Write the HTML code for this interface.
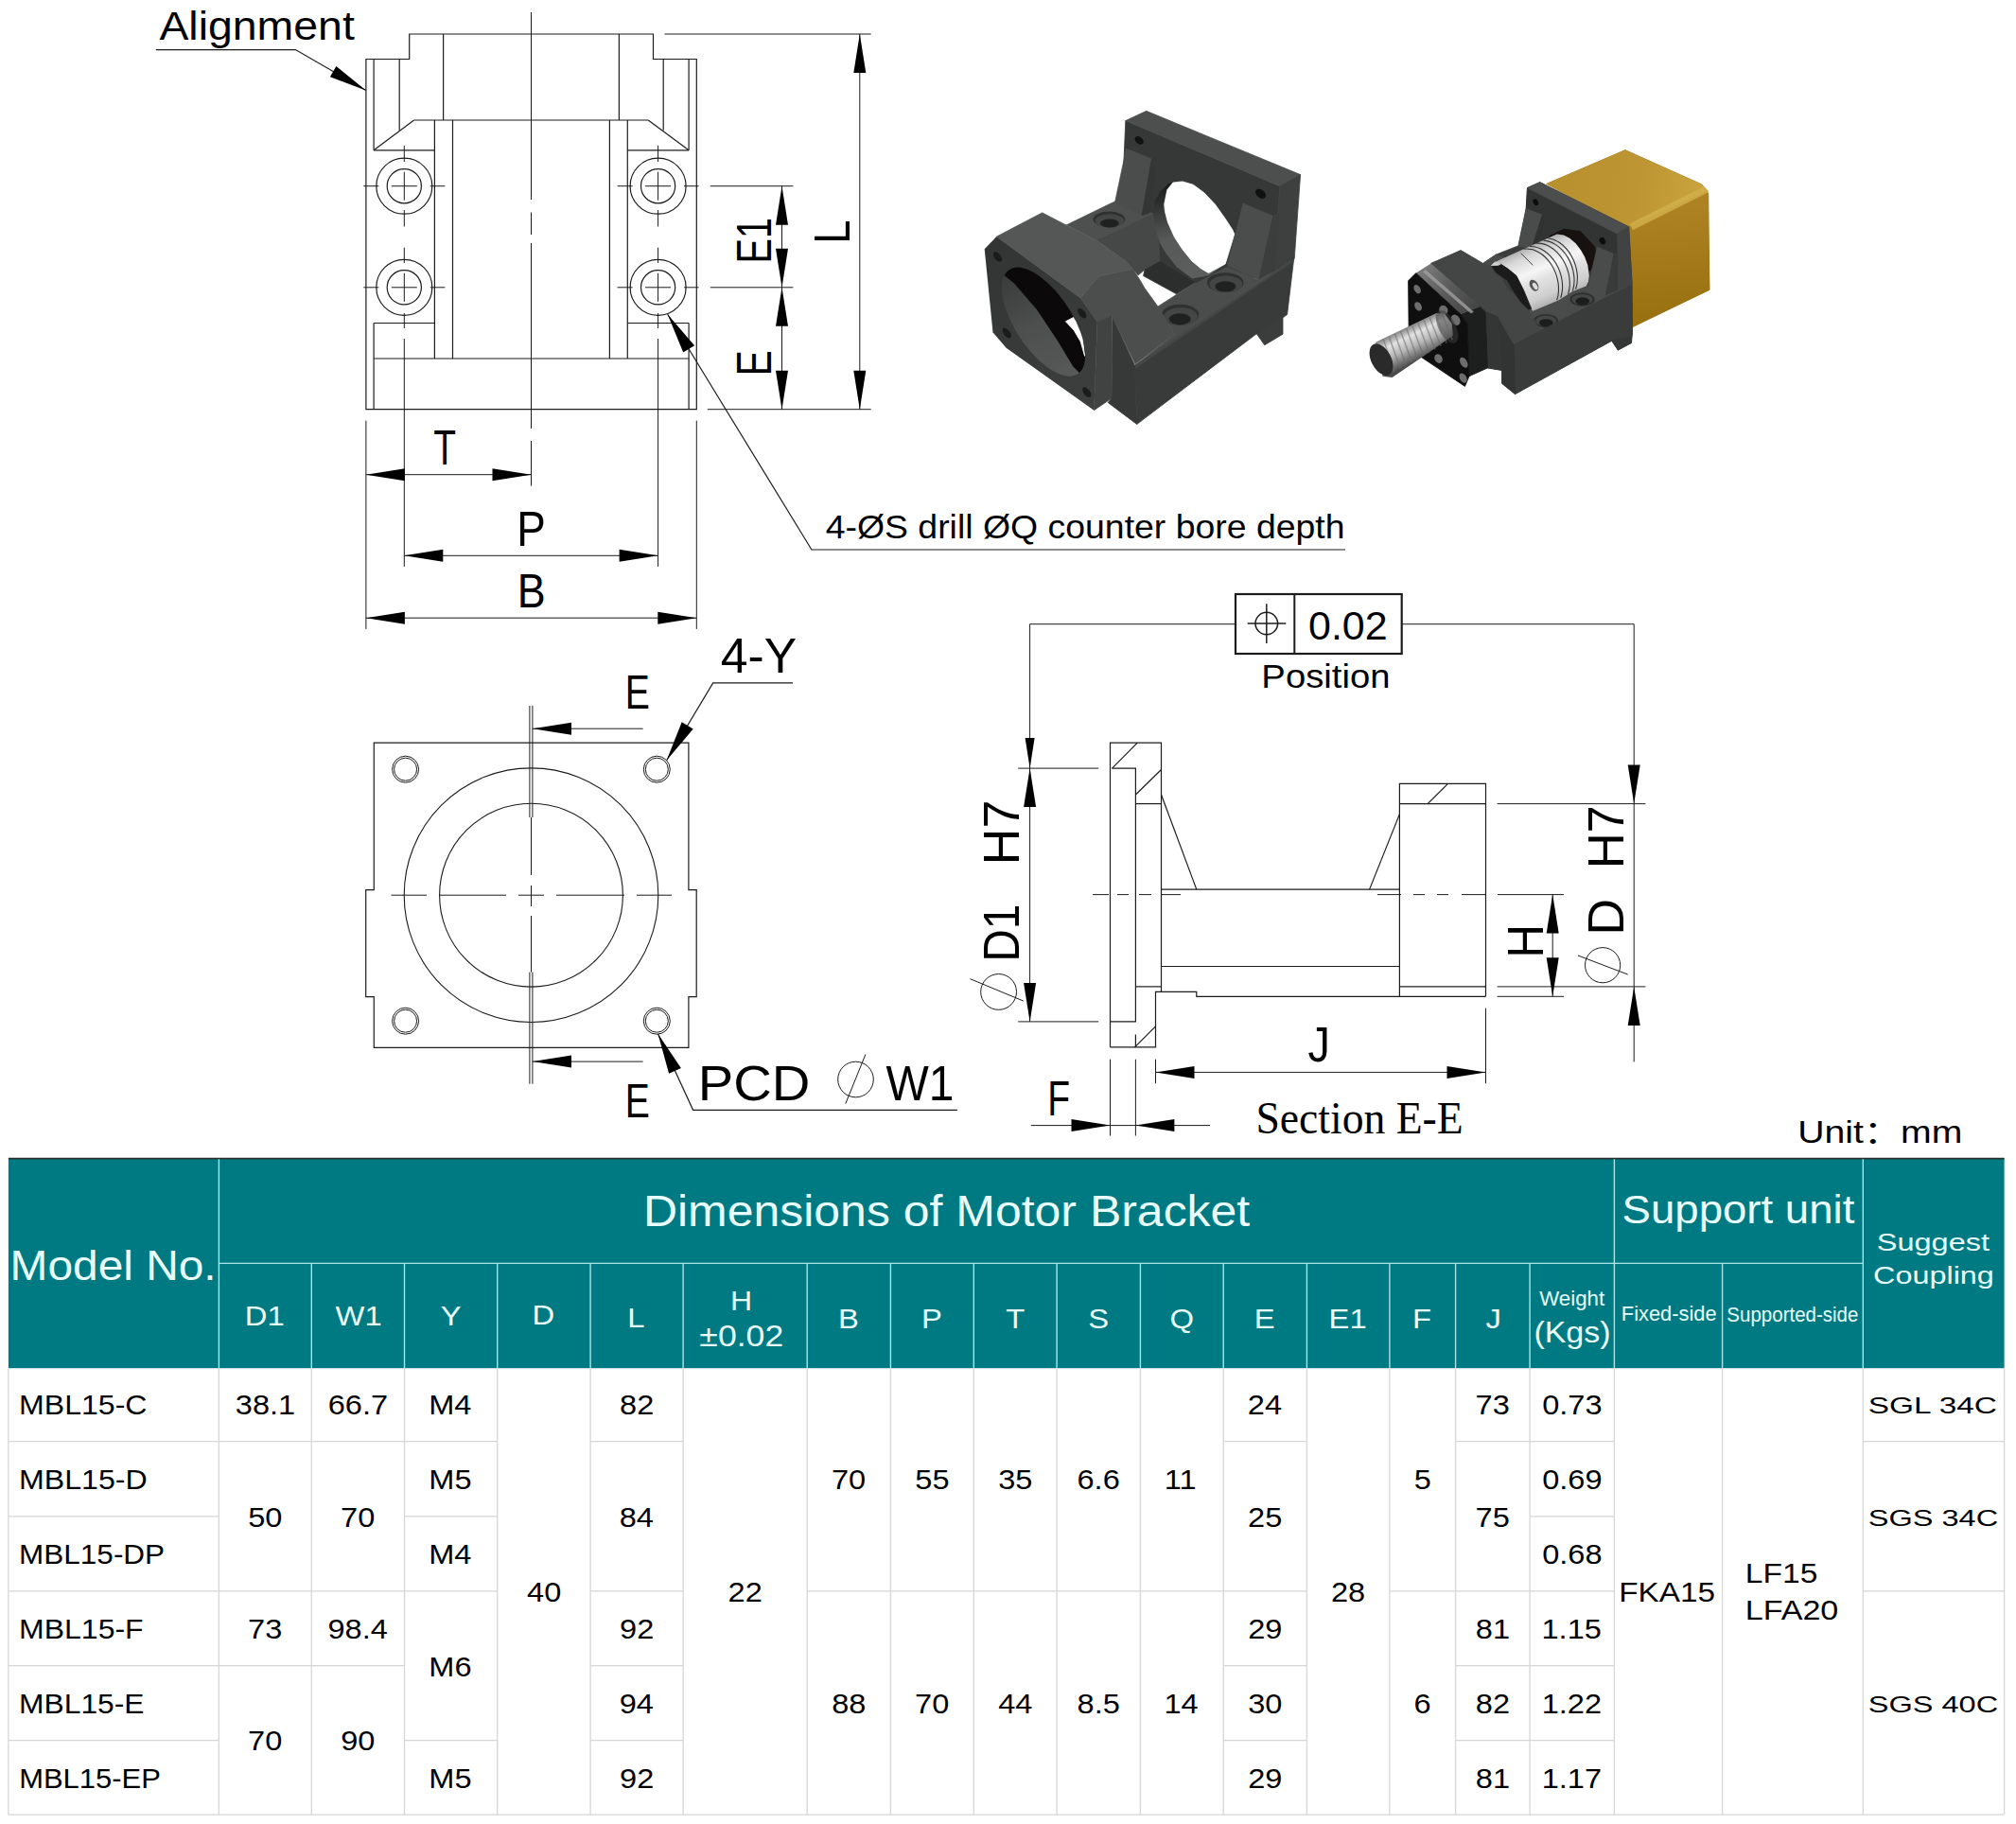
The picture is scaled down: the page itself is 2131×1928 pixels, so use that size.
<!DOCTYPE html>
<html><head><meta charset="utf-8"><title>Motor Bracket MBL15</title>
<style>html,body{margin:0;padding:0;background:#fff}svg{display:block}</style></head>
<body><svg width="2131" height="1928" viewBox="0 0 2131 1928" font-family='"Liberation Sans", sans-serif'>
<rect width="2131" height="1928" fill="#fff"/>
<path d="M386.9,432.7 V62.5 H432.7 V36 H690.5 V62.5 H736.3 V432.7 Z" stroke="#1c1c1c" stroke-width="1.2" fill="none" />
<line x1="395.1" y1="62.5" x2="395.1" y2="158.8" stroke="#1c1c1c" stroke-width="1.2" />
<line x1="422.2" y1="62.5" x2="422.2" y2="137.8" stroke="#1c1c1c" stroke-width="1.2" />
<line x1="468.6" y1="36.0" x2="468.6" y2="127.0" stroke="#1c1c1c" stroke-width="1.2" />
<line x1="437.6" y1="127.0" x2="395.1" y2="158.8" stroke="#1c1c1c" stroke-width="1.2" />
<line x1="395.1" y1="158.8" x2="459.4" y2="158.8" stroke="#1c1c1c" stroke-width="1.2" />
<line x1="459.4" y1="127.0" x2="459.4" y2="379.0" stroke="#1c1c1c" stroke-width="1.2" />
<line x1="478.5" y1="127.0" x2="478.5" y2="379.0" stroke="#1c1c1c" stroke-width="1.2" />
<line x1="395.1" y1="341.5" x2="459.4" y2="341.5" stroke="#1c1c1c" stroke-width="1.2" />
<line x1="395.1" y1="341.5" x2="395.1" y2="432.7" stroke="#1c1c1c" stroke-width="1.2" />
<line x1="728.1" y1="62.5" x2="728.1" y2="158.8" stroke="#1c1c1c" stroke-width="1.2" />
<line x1="701.2" y1="62.5" x2="701.2" y2="137.8" stroke="#1c1c1c" stroke-width="1.2" />
<line x1="654.4" y1="36.0" x2="654.4" y2="127.0" stroke="#1c1c1c" stroke-width="1.2" />
<line x1="685.2" y1="127.0" x2="728.1" y2="158.8" stroke="#1c1c1c" stroke-width="1.2" />
<line x1="728.1" y1="158.8" x2="663.3" y2="158.8" stroke="#1c1c1c" stroke-width="1.2" />
<line x1="663.3" y1="127.0" x2="663.3" y2="379.0" stroke="#1c1c1c" stroke-width="1.2" />
<line x1="644.4" y1="127.0" x2="644.4" y2="379.0" stroke="#1c1c1c" stroke-width="1.2" />
<line x1="728.1" y1="341.5" x2="663.3" y2="341.5" stroke="#1c1c1c" stroke-width="1.2" />
<line x1="728.1" y1="341.5" x2="728.1" y2="432.7" stroke="#1c1c1c" stroke-width="1.2" />
<line x1="437.6" y1="127.0" x2="685.2" y2="127.0" stroke="#1c1c1c" stroke-width="1.2" />
<line x1="395.1" y1="379.0" x2="728.1" y2="379.0" stroke="#1c1c1c" stroke-width="1.2" />
<circle cx="427.3" cy="196.7" r="29.5" stroke="#1c1c1c" stroke-width="1.2" fill="none"/>
<circle cx="427.3" cy="196.7" r="18.1" stroke="#1c1c1c" stroke-width="1.2" fill="none"/>
<line x1="384.3" y1="196.7" x2="400.3" y2="196.7" stroke="#1c1c1c" stroke-width="1" />
<line x1="413.8" y1="196.7" x2="440.8" y2="196.7" stroke="#1c1c1c" stroke-width="1" />
<line x1="454.8" y1="196.7" x2="470.3" y2="196.7" stroke="#1c1c1c" stroke-width="1" />
<line x1="427.3" y1="181.7" x2="427.3" y2="211.7" stroke="#1c1c1c" stroke-width="1" />
<circle cx="427.3" cy="303.8" r="29.5" stroke="#1c1c1c" stroke-width="1.2" fill="none"/>
<circle cx="427.3" cy="303.8" r="18.1" stroke="#1c1c1c" stroke-width="1.2" fill="none"/>
<line x1="384.3" y1="303.8" x2="400.3" y2="303.8" stroke="#1c1c1c" stroke-width="1" />
<line x1="413.8" y1="303.8" x2="440.8" y2="303.8" stroke="#1c1c1c" stroke-width="1" />
<line x1="454.8" y1="303.8" x2="470.3" y2="303.8" stroke="#1c1c1c" stroke-width="1" />
<line x1="427.3" y1="288.8" x2="427.3" y2="318.8" stroke="#1c1c1c" stroke-width="1" />
<line x1="427.3" y1="153.8" x2="427.3" y2="171.0" stroke="#1c1c1c" stroke-width="1" />
<line x1="427.3" y1="222.0" x2="427.3" y2="239.5" stroke="#1c1c1c" stroke-width="1" />
<line x1="427.3" y1="261.7" x2="427.3" y2="278.0" stroke="#1c1c1c" stroke-width="1" />
<line x1="427.3" y1="331.0" x2="427.3" y2="347.0" stroke="#1c1c1c" stroke-width="1" />
<line x1="427.3" y1="358.0" x2="427.3" y2="598.9" stroke="#1c1c1c" stroke-width="1" />
<circle cx="695.6" cy="196.7" r="29.5" stroke="#1c1c1c" stroke-width="1.2" fill="none"/>
<circle cx="695.6" cy="196.7" r="18.1" stroke="#1c1c1c" stroke-width="1.2" fill="none"/>
<line x1="652.6" y1="196.7" x2="668.6" y2="196.7" stroke="#1c1c1c" stroke-width="1" />
<line x1="682.1" y1="196.7" x2="709.1" y2="196.7" stroke="#1c1c1c" stroke-width="1" />
<line x1="723.1" y1="196.7" x2="738.6" y2="196.7" stroke="#1c1c1c" stroke-width="1" />
<line x1="695.6" y1="181.7" x2="695.6" y2="211.7" stroke="#1c1c1c" stroke-width="1" />
<circle cx="695.6" cy="303.8" r="29.5" stroke="#1c1c1c" stroke-width="1.2" fill="none"/>
<circle cx="695.6" cy="303.8" r="18.1" stroke="#1c1c1c" stroke-width="1.2" fill="none"/>
<line x1="652.6" y1="303.8" x2="668.6" y2="303.8" stroke="#1c1c1c" stroke-width="1" />
<line x1="682.1" y1="303.8" x2="709.1" y2="303.8" stroke="#1c1c1c" stroke-width="1" />
<line x1="723.1" y1="303.8" x2="738.6" y2="303.8" stroke="#1c1c1c" stroke-width="1" />
<line x1="695.6" y1="288.8" x2="695.6" y2="318.8" stroke="#1c1c1c" stroke-width="1" />
<line x1="695.6" y1="153.8" x2="695.6" y2="171.0" stroke="#1c1c1c" stroke-width="1" />
<line x1="695.6" y1="222.0" x2="695.6" y2="239.5" stroke="#1c1c1c" stroke-width="1" />
<line x1="695.6" y1="261.7" x2="695.6" y2="278.0" stroke="#1c1c1c" stroke-width="1" />
<line x1="695.6" y1="331.0" x2="695.6" y2="347.0" stroke="#1c1c1c" stroke-width="1" />
<line x1="695.6" y1="358.0" x2="695.6" y2="598.9" stroke="#1c1c1c" stroke-width="1" />
<line x1="561.5" y1="13.0" x2="561.5" y2="211.0" stroke="#1c1c1c" stroke-width="1" />
<line x1="561.5" y1="224.5" x2="561.5" y2="248.0" stroke="#1c1c1c" stroke-width="1" />
<line x1="561.5" y1="257.0" x2="561.5" y2="453.0" stroke="#1c1c1c" stroke-width="1" />
<line x1="561.5" y1="466.0" x2="561.5" y2="513.6" stroke="#1c1c1c" stroke-width="1" />
<text transform="translate(168.41,42.00) scale(1.1013,1)" font-family='"Liberation Sans", "Noto Sans CJK SC", sans-serif' font-size="42.15" fill="#000">Alignment</text>
<path d="M164.8,52.6 H312.4 L386.8,95.5" stroke="#1c1c1c" stroke-width="1.2" fill="none" />
<polygon points="386.8,95.5 348.9,81.2 355.4,69.9" fill="#000" />
<line x1="702.5" y1="36.0" x2="920.7" y2="36.0" stroke="#1c1c1c" stroke-width="1" />
<line x1="747.8" y1="432.7" x2="920.7" y2="432.7" stroke="#1c1c1c" stroke-width="1" />
<line x1="908.8" y1="36.0" x2="908.8" y2="432.7" stroke="#1c1c1c" stroke-width="1" />
<polygon points="908.8,36.0 915.3,77.0 902.3,77.0" fill="#000" />
<polygon points="908.8,432.7 902.3,391.7 915.3,391.7" fill="#000" />
<text transform="translate(898.40,257.72) rotate(-90) scale(0.8434,1)" font-family='"Liberation Sans", "Noto Sans CJK SC", sans-serif' font-size="53.78" fill="#000">L</text>
<line x1="750.8" y1="196.7" x2="838.4" y2="196.7" stroke="#1c1c1c" stroke-width="1" />
<line x1="750.8" y1="303.8" x2="838.4" y2="303.8" stroke="#1c1c1c" stroke-width="1" />
<line x1="826.5" y1="196.7" x2="826.5" y2="432.7" stroke="#1c1c1c" stroke-width="1" />
<polygon points="826.5,196.7 833.0,237.7 820.0,237.7" fill="#000" />
<polygon points="826.5,303.8 820.0,262.8 833.0,262.8" fill="#000" />
<polygon points="826.5,303.8 833.0,344.8 820.0,344.8" fill="#000" />
<polygon points="826.5,432.7 820.0,391.7 833.0,391.7" fill="#000" />
<text transform="translate(815.30,278.55) rotate(-90) scale(0.7576,1)" font-family='"Liberation Sans", "Noto Sans CJK SC", sans-serif' font-size="52.33" fill="#000">E1</text>
<text transform="translate(815.30,397.33) rotate(-90) scale(0.7757,1)" font-family='"Liberation Sans", "Noto Sans CJK SC", sans-serif' font-size="52.33" fill="#000">E</text>
<line x1="386.9" y1="444.6" x2="386.9" y2="664.9" stroke="#1c1c1c" stroke-width="1" />
<line x1="736.3" y1="444.6" x2="736.3" y2="664.9" stroke="#1c1c1c" stroke-width="1" />
<line x1="386.9" y1="501.7" x2="561.5" y2="501.7" stroke="#1c1c1c" stroke-width="1" />
<polygon points="386.9,501.7 427.9,495.2 427.9,508.2" fill="#000" />
<polygon points="561.5,501.7 520.5,508.2 520.5,495.2" fill="#000" />
<text transform="translate(458.13,491.30) scale(0.7436,1)" font-family='"Liberation Sans", "Noto Sans CJK SC", sans-serif' font-size="52.33" fill="#000">T</text>
<line x1="427.3" y1="587.3" x2="695.6" y2="587.3" stroke="#1c1c1c" stroke-width="1" />
<polygon points="427.3,587.3 468.3,580.8 468.3,593.8" fill="#000" />
<polygon points="695.6,587.3 654.6,593.8 654.6,580.8" fill="#000" />
<text transform="translate(546.24,576.60) scale(0.8761,1)" font-family='"Liberation Sans", "Noto Sans CJK SC", sans-serif' font-size="52.33" fill="#000">P</text>
<line x1="386.9" y1="653.2" x2="736.3" y2="653.2" stroke="#1c1c1c" stroke-width="1" />
<polygon points="386.9,653.2 427.9,646.7 427.9,659.7" fill="#000" />
<polygon points="736.3,653.2 695.3,659.7 695.3,646.7" fill="#000" />
<text transform="translate(546.82,641.80) scale(0.8955,1)" font-family='"Liberation Sans", "Noto Sans CJK SC", sans-serif' font-size="50.15" fill="#000">B</text>
<path d="M705.7,332.3 L857.9,581 H1422" stroke="#1c1c1c" stroke-width="1.2" fill="none" />
<polygon points="705.7,332.3 734.1,365.3 722.2,372.6" fill="#000" />
<text transform="translate(872.64,568.60) scale(1.0508,1)" font-family='"Liberation Sans", "Noto Sans CJK SC", sans-serif' font-size="35.61" fill="#000">4-ØS drill ØQ counter bore depth</text>
<path d="M395.3,785.2 H727.9 V940.7 H736.2 V1053.6 H727.9 V1107.3 H395.3 V1053.6 H386.7 V940.7 H395.3 Z" stroke="#1c1c1c" stroke-width="1.2" fill="none" />
<circle cx="561.5" cy="946.2" r="134.3" stroke="#1c1c1c" stroke-width="1.1" fill="none"/>
<circle cx="561.5" cy="946.2" r="96.9" stroke="#1c1c1c" stroke-width="1.1" fill="none"/>
<circle cx="428.6" cy="813.2" r="14.0" stroke="#1c1c1c" stroke-width="1" fill="none"/>
<circle cx="428.6" cy="813.2" r="12.0" stroke="#1c1c1c" stroke-width="1" fill="none"/>
<circle cx="428.6" cy="1079.2" r="14.0" stroke="#1c1c1c" stroke-width="1" fill="none"/>
<circle cx="428.6" cy="1079.2" r="12.0" stroke="#1c1c1c" stroke-width="1" fill="none"/>
<circle cx="694.3" cy="813.2" r="14.0" stroke="#1c1c1c" stroke-width="1" fill="none"/>
<circle cx="694.3" cy="813.2" r="12.0" stroke="#1c1c1c" stroke-width="1" fill="none"/>
<circle cx="694.3" cy="1079.2" r="14.0" stroke="#1c1c1c" stroke-width="1" fill="none"/>
<circle cx="694.3" cy="1079.2" r="12.0" stroke="#1c1c1c" stroke-width="1" fill="none"/>
<line x1="413.5" y1="946.2" x2="451.0" y2="946.2" stroke="#1c1c1c" stroke-width="1" />
<line x1="464.0" y1="946.2" x2="535.0" y2="946.2" stroke="#1c1c1c" stroke-width="1" />
<line x1="548.0" y1="946.2" x2="575.0" y2="946.2" stroke="#1c1c1c" stroke-width="1" />
<line x1="588.0" y1="946.2" x2="660.0" y2="946.2" stroke="#1c1c1c" stroke-width="1" />
<line x1="673.0" y1="946.2" x2="710.0" y2="946.2" stroke="#1c1c1c" stroke-width="1" />
<line x1="561.5" y1="864.0" x2="561.5" y2="925.0" stroke="#1c1c1c" stroke-width="1" />
<line x1="561.5" y1="936.0" x2="561.5" y2="958.0" stroke="#1c1c1c" stroke-width="1" />
<line x1="561.5" y1="968.0" x2="561.5" y2="1027.6" stroke="#1c1c1c" stroke-width="1" />
<line x1="559.9" y1="746.0" x2="559.9" y2="864.0" stroke="#1c1c1c" stroke-width="1" />
<line x1="559.9" y1="1027.6" x2="559.9" y2="1145.7" stroke="#1c1c1c" stroke-width="1" />
<line x1="562.9" y1="746.0" x2="562.9" y2="864.0" stroke="#1c1c1c" stroke-width="1" />
<line x1="562.9" y1="1027.6" x2="562.9" y2="1145.7" stroke="#1c1c1c" stroke-width="1" />
<line x1="563.0" y1="770.2" x2="679.6" y2="770.2" stroke="#1c1c1c" stroke-width="1" />
<polygon points="563.0,770.2 604.0,763.7 604.0,776.7" fill="#000" />
<line x1="563.0" y1="1122.1" x2="679.6" y2="1122.1" stroke="#1c1c1c" stroke-width="1" />
<polygon points="563.0,1122.1 604.0,1115.6 604.0,1128.6" fill="#000" />
<text transform="translate(660.79,748.50) scale(0.7689,1)" font-family='"Liberation Sans", "Noto Sans CJK SC", sans-serif' font-size="50.87" fill="#000">E</text>
<text transform="translate(660.79,1181.30) scale(0.7689,1)" font-family='"Liberation Sans", "Noto Sans CJK SC", sans-serif' font-size="50.87" fill="#000">E</text>
<path d="M704.6,803.8 L753.7,721.9 H838" stroke="#1c1c1c" stroke-width="1.2" fill="none" />
<polygon points="704.6,803.8 720.7,763.3 732.7,770.5" fill="#000" />
<text transform="translate(761.82,711.30) scale(0.9864,1)" font-family='"Liberation Sans", "Noto Sans CJK SC", sans-serif' font-size="52.33" fill="#000">4-Y</text>
<path d="M695.5,1092.8 L732.6,1173.3 H1011.8" stroke="#1c1c1c" stroke-width="1.2" fill="none" />
<polygon points="695.5,1092.8 719.9,1128.9 707.1,1134.8" fill="#000" />
<text transform="translate(737.69,1162.80) scale(1.0735,1)" font-family='"Liberation Sans", "Noto Sans CJK SC", sans-serif' font-size="52.33" fill="#000">PCD</text>
<circle cx="904.5" cy="1141.0" r="18.8" stroke="#1c1c1c" stroke-width="1" fill="none"/>
<line x1="893.8" y1="1166.6" x2="914.9" y2="1114.5" stroke="#1c1c1c" stroke-width="1" />
<text transform="translate(936.49,1162.80) scale(0.9167,1)" font-family='"Liberation Sans", "Noto Sans CJK SC", sans-serif' font-size="52.33" fill="#000">W1</text>
<path d="M1173.5,1106.8 V785.2 H1227.5 V1048.4" stroke="#1c1c1c" stroke-width="1.2" fill="none" />
<path d="M1175.5,812.1 H1200.4 V1079.9 H1173.5" stroke="#1c1c1c" stroke-width="1.2" fill="none" />
<line x1="1175.5" y1="812.1" x2="1202.3" y2="785.2" stroke="#1c1c1c" stroke-width="1.2" />
<line x1="1200.4" y1="840.0" x2="1227.5" y2="813.5" stroke="#1c1c1c" stroke-width="1.2" />
<line x1="1200.4" y1="849.6" x2="1227.5" y2="849.6" stroke="#1c1c1c" stroke-width="1.2" />
<line x1="1200.4" y1="1042.9" x2="1227.5" y2="1042.9" stroke="#1c1c1c" stroke-width="1.2" />
<path d="M1173.5,1106.8 H1221.5 V1048.4 H1264.8 V1053.3 H1570.5" stroke="#1c1c1c" stroke-width="1.2" fill="none" />
<line x1="1199.5" y1="1106.8" x2="1221.5" y2="1084.8" stroke="#1c1c1c" stroke-width="1.2" />
<line x1="1200.4" y1="1093.6" x2="1200.4" y2="1106.8" stroke="#1c1c1c" stroke-width="1.2" />
<line x1="1227.5" y1="840.0" x2="1264.8" y2="940.1" stroke="#1c1c1c" stroke-width="1.2" />
<line x1="1479.4" y1="860.6" x2="1447.6" y2="940.1" stroke="#1c1c1c" stroke-width="1.2" />
<line x1="1227.5" y1="940.1" x2="1479.4" y2="940.1" stroke="#1c1c1c" stroke-width="1.2" />
<line x1="1227.5" y1="1021.5" x2="1479.4" y2="1021.5" stroke="#1c1c1c" stroke-width="1.2" />
<path d="M1479.4,1053.3 V828.4 H1570.5 V1053.3" stroke="#1c1c1c" stroke-width="1.2" fill="none" />
<line x1="1479.4" y1="849.6" x2="1570.5" y2="849.6" stroke="#1c1c1c" stroke-width="1.2" />
<line x1="1479.4" y1="1042.9" x2="1570.5" y2="1042.9" stroke="#1c1c1c" stroke-width="1.2" />
<line x1="1509.1" y1="849.6" x2="1530.5" y2="828.4" stroke="#1c1c1c" stroke-width="1.2" />
<line x1="1155.0" y1="945.6" x2="1172.0" y2="945.6" stroke="#1c1c1c" stroke-width="1" />
<line x1="1181.0" y1="945.6" x2="1193.0" y2="945.6" stroke="#1c1c1c" stroke-width="1" />
<line x1="1204.0" y1="945.6" x2="1217.0" y2="945.6" stroke="#1c1c1c" stroke-width="1" />
<line x1="1227.0" y1="945.6" x2="1248.0" y2="945.6" stroke="#1c1c1c" stroke-width="1" />
<line x1="1456.0" y1="945.6" x2="1481.0" y2="945.6" stroke="#1c1c1c" stroke-width="1" />
<line x1="1494.0" y1="945.6" x2="1506.0" y2="945.6" stroke="#1c1c1c" stroke-width="1" />
<line x1="1519.0" y1="945.6" x2="1531.0" y2="945.6" stroke="#1c1c1c" stroke-width="1" />
<line x1="1545.0" y1="945.6" x2="1571.0" y2="945.6" stroke="#1c1c1c" stroke-width="1" />
<line x1="1583.0" y1="945.6" x2="1653.0" y2="945.6" stroke="#1c1c1c" stroke-width="1" />
<line x1="1076.2" y1="812.1" x2="1161.2" y2="812.1" stroke="#1c1c1c" stroke-width="1" />
<line x1="1076.2" y1="1079.9" x2="1161.2" y2="1079.9" stroke="#1c1c1c" stroke-width="1" />
<line x1="1088.6" y1="659.7" x2="1088.6" y2="1079.9" stroke="#1c1c1c" stroke-width="1" />
<polygon points="1088.6,812.1 1083.6,780.1 1093.6,780.1" fill="#000" />
<polygon points="1088.6,812.1 1095.1,853.1 1082.1,853.1" fill="#000" />
<polygon points="1088.6,1079.9 1082.1,1038.9 1095.1,1038.9" fill="#000" />
<text transform="translate(1077.00,914.42) rotate(-90) scale(1.0148,1)" font-family='"Liberation Sans", "Noto Sans CJK SC", sans-serif' font-size="53.05" fill="#000">H7</text>
<text transform="translate(1077.00,1016.72) rotate(-90) scale(0.9018,1)" font-family='"Liberation Sans", "Noto Sans CJK SC", sans-serif' font-size="53.05" fill="#000">D1</text>
<circle cx="1055.6" cy="1048.4" r="18.9" stroke="#1c1c1c" stroke-width="1" fill="none"/>
<line x1="1025.5" y1="1034.7" x2="1081.7" y2="1058.0" stroke="#1c1c1c" stroke-width="1" />
<line x1="1088.6" y1="659.7" x2="1305.8" y2="659.7" stroke="#1c1c1c" stroke-width="1" />
<line x1="1481.9" y1="659.7" x2="1727.2" y2="659.7" stroke="#1c1c1c" stroke-width="1" />
<rect x="1306" y="628" width="175.7" height="63" fill="none" stroke="#1c1c1c" stroke-width="2.2"/>
<line x1="1368.3" y1="628.0" x2="1368.3" y2="691.0" stroke="#1c1c1c" stroke-width="2" />
<circle cx="1338.8" cy="659.0" r="11.8" stroke="#1c1c1c" stroke-width="1.5" fill="none"/>
<line x1="1318.7" y1="659.0" x2="1359.3" y2="659.0" stroke="#1c1c1c" stroke-width="1.5" />
<line x1="1338.8" y1="638.2" x2="1338.8" y2="679.9" stroke="#1c1c1c" stroke-width="1.5" />
<text transform="translate(1383.02,675.70) scale(1.0195,1)" font-family='"Liberation Sans", "Noto Sans CJK SC", sans-serif' font-size="42.15" fill="#000">0.02</text>
<text transform="translate(1333.36,726.70) scale(1.0745,1)" font-family='"Liberation Sans", "Noto Sans CJK SC", sans-serif' font-size="35.61" fill="#000">Position</text>
<line x1="1727.2" y1="659.7" x2="1727.2" y2="1122.4" stroke="#1c1c1c" stroke-width="1" />
<line x1="1582.6" y1="849.6" x2="1739.4" y2="849.6" stroke="#1c1c1c" stroke-width="1" />
<line x1="1582.6" y1="1042.9" x2="1739.4" y2="1042.9" stroke="#1c1c1c" stroke-width="1" />
<polygon points="1727.2,849.6 1720.7,808.6 1733.7,808.6" fill="#000" />
<polygon points="1727.2,1042.9 1733.7,1083.9 1720.7,1083.9" fill="#000" />
<text transform="translate(1716.00,918.31) rotate(-90) scale(0.9902,1)" font-family='"Liberation Sans", "Noto Sans CJK SC", sans-serif' font-size="53.05" fill="#000">H7</text>
<text transform="translate(1716.00,988.38) rotate(-90) scale(1.0056,1)" font-family='"Liberation Sans", "Noto Sans CJK SC", sans-serif' font-size="53.05" fill="#000">D</text>
<circle cx="1694.1" cy="1020.2" r="18.6" stroke="#1c1c1c" stroke-width="1" fill="none"/>
<line x1="1668.0" y1="1010.0" x2="1720.7" y2="1030.0" stroke="#1c1c1c" stroke-width="1" />
<line x1="1582.6" y1="1053.3" x2="1653.0" y2="1053.3" stroke="#1c1c1c" stroke-width="1" />
<line x1="1641.2" y1="945.6" x2="1641.2" y2="1053.3" stroke="#1c1c1c" stroke-width="1" />
<polygon points="1641.2,945.6 1647.7,986.6 1634.7,986.6" fill="#000" />
<polygon points="1641.2,1053.3 1634.7,1012.3 1647.7,1012.3" fill="#000" />
<text transform="translate(1630.50,1012.62) rotate(-90) scale(0.9246,1)" font-family='"Liberation Sans", "Noto Sans CJK SC", sans-serif' font-size="53.05" fill="#000">H</text>
<line x1="1221.5" y1="1119.7" x2="1221.5" y2="1145.2" stroke="#1c1c1c" stroke-width="1" />
<line x1="1570.5" y1="1065.7" x2="1570.5" y2="1145.2" stroke="#1c1c1c" stroke-width="1" />
<line x1="1221.5" y1="1133.4" x2="1570.5" y2="1133.4" stroke="#1c1c1c" stroke-width="1" />
<polygon points="1221.5,1133.4 1262.5,1126.9 1262.5,1139.9" fill="#000" />
<polygon points="1570.5,1133.4 1529.5,1139.9 1529.5,1126.9" fill="#000" />
<text transform="translate(1382.47,1121.60) scale(0.9202,1)" font-family='"Liberation Sans", "Noto Sans CJK SC", sans-serif' font-size="50.87" fill="#000">J</text>
<line x1="1173.5" y1="1119.7" x2="1173.5" y2="1200.5" stroke="#1c1c1c" stroke-width="1" />
<line x1="1200.4" y1="1119.7" x2="1200.4" y2="1200.5" stroke="#1c1c1c" stroke-width="1" />
<line x1="1089.9" y1="1189.6" x2="1279.0" y2="1189.6" stroke="#1c1c1c" stroke-width="1" />
<polygon points="1173.5,1189.6 1132.5,1196.1 1132.5,1183.1" fill="#000" />
<polygon points="1200.4,1189.6 1241.4,1183.1 1241.4,1196.1" fill="#000" />
<text transform="translate(1107.29,1178.80) scale(0.7573,1)" font-family='"Liberation Sans", "Noto Sans CJK SC", sans-serif' font-size="51.60" fill="#000">F</text>
<text transform="translate(1327.45,1198.30) scale(0.9342,1)" font-family='"Liberation Serif", serif' font-size="48.87" fill="#000">Section E-E</text>
<text transform="translate(1900.28,1207.90) scale(1.1725,1)" font-family='"Liberation Sans", "Noto Sans CJK SC", sans-serif' font-size="33.43" fill="#000">Unit：mm</text>
<defs><linearGradient id="gw" gradientUnits="userSpaceOnUse" x1="1062" y1="300" x2="1125" y2="420"><stop offset="0" stop-color="#3c3e3e"/><stop offset="0.4" stop-color="#4d4f4f"/><stop offset="1" stop-color="#5a5c5c"/></linearGradient><linearGradient id="grim" gradientUnits="userSpaceOnUse" x1="1232" y1="195" x2="1246" y2="290"><stop offset="0" stop-color="#1b1d1d"/><stop offset="0.3" stop-color="#383a3a"/><stop offset="0.6" stop-color="#575959"/><stop offset="1" stop-color="#5c5e5e"/></linearGradient><linearGradient id="gff" gradientUnits="userSpaceOnUse" x1="1045" y1="270" x2="1160" y2="420"><stop offset="0" stop-color="#333535"/><stop offset="1" stop-color="#3d3f3f"/></linearGradient><clipPath id="bore"><circle r="1" transform="matrix(43.9,31.9,3.8,47.9,1103.1,340.1)"/></clipPath></defs>
<g stroke-linejoin="round">
<polygon points="1189.8,127.6 1352.7,196.7 1346.4,287.4 1300.0,301.0 1263.0,299.5 1218.0,282.0 1186.0,216.0" fill="#363838" stroke="#363838" stroke-width="0.8" />
<polygon points="1189.8,127.6 1211.7,117.3 1374.6,184.6 1352.7,196.7" fill="#4d4f4f" stroke="#4d4f4f" stroke-width="0.8" />
<polygon points="1352.7,196.7 1374.6,184.6 1368.2,273.5 1346.4,287.4" fill="#3e4040" stroke="#3e4040" stroke-width="0.8" />
<ellipse cx="1204.2" cy="148.4" rx="5.2" ry="3.6" fill="#101111" transform="rotate(40 1204.2 148.4)" />
<ellipse cx="1332.5" cy="204.8" rx="6.2" ry="4.2" fill="#101111" transform="rotate(40 1332.5 204.8)" />
<polygon points="1127.4,237.8 1175.7,214.3 1187.7,209.9 1209.7,223.0 1220.0,226.0 1158.7,253.7" fill="#4e5050" stroke="#4e5050" stroke-width="0.8" />
<polygon points="1158.7,253.7 1220.0,226.0 1223.0,224.0 1226.1,276.7 1210.0,285.1 1203.1,291.0 1196.5,283.4 1191.0,276.8" fill="#464848" stroke="#464848" stroke-width="0.7"/>
<ellipse cx="1172.4" cy="231.8" rx="17.0" ry="8.2" fill="#2f3131" transform="rotate(0 1172.4 231.8)" />
<ellipse cx="1173.0" cy="233.4" rx="15.3" ry="7.1" fill="#444646" transform="rotate(0 1173.0 233.4)" />
<ellipse cx="1172.9" cy="236.0" rx="9.9" ry="4.6" fill="#1f2121" transform="rotate(0 1172.9 236.0)" />
<polygon points="1210.0,285.1 1226.1,276.7 1263.4,298.7 1243.7,310.8 1208.6,291.6" fill="#2c2e2e" stroke="#2c2e2e" stroke-width="0.8" />
<polygon points="1243.0,191.5 1234.5,194.6 1226.9,202.2 1220.5,213.0 1218.6,224.7 1221.9,243.9 1226.3,257.6 1232.9,268.5 1243.9,282.2 1260.3,294.6 1278.0,291.0 1295.2,279.0 1304.8,247.5 1284.4,216.0 1261.4,195.3" fill="url(#grim)" />
<polygon points="1230.7,216.0 1233.8,200.7 1239.9,193.0 1249.9,191.9 1261.4,195.3 1272.9,203.8 1284.4,216.0 1295.9,232.2 1302.8,242.9 1304.8,247.5 1295.2,279.0 1277.5,288.6 1269.1,283.6 1259.9,275.9 1249.9,263.6 1241.4,250.6 1234.5,235.2 1231.5,223.7" fill="#fff" stroke="#fff" stroke-width="0.8" />
<polygon points="1190.5,157.0 1217.4,168.0 1207.0,227.5 1178.5,214.0" fill="#4b4d4d" stroke="#4b4d4d" stroke-width="0.7"/>
<polygon points="1217.4,167.9 1220.9,182.9 1215.1,224.9 1207.1,227.8" fill="#343636" stroke="#343636" stroke-width="0.8" />
<polygon points="1314.1,215.1 1345.8,228.4 1330.8,295.7 1297.4,280.8" fill="#4b4d4d" stroke="#4b4d4d" stroke-width="0.8" />
<polygon points="1345.8,228.4 1352.1,225.5 1346.4,287.4 1330.8,295.7" fill="#3c3e3e" stroke="#3c3e3e" stroke-width="0.8" />
<polygon points="1223.9,323.9 1263.4,298.7 1263.8,299.7 1296.7,282.2 1330.2,295.8 1346.4,287.4 1199.3,386.7 1241.5,353.0" fill="#4b4d4d" stroke="#4b4d4d" stroke-width="0.7"/>
<ellipse cx="1295.2" cy="298.7" rx="19.2" ry="10.4" fill="#2f3131" transform="rotate(0 1295.2 298.7)" />
<ellipse cx="1295.8" cy="300.3" rx="17.3" ry="9.0" fill="#444646" transform="rotate(0 1295.8 300.3)" />
<ellipse cx="1295.4" cy="302.9" rx="11.0" ry="5.7" fill="#1f2121" transform="rotate(0 1295.4 302.9)" />
<ellipse cx="1247.5" cy="332.7" rx="19.7" ry="11.0" fill="#2f3131" transform="rotate(0 1247.5 332.7)" />
<ellipse cx="1248.1" cy="334.3" rx="17.8" ry="9.4" fill="#444646" transform="rotate(0 1248.1 334.3)" />
<ellipse cx="1247.2" cy="337.3" rx="11.5" ry="6.1" fill="#1f2121" transform="rotate(0 1247.2 337.3)" />
<polygon points="1327.7,351.9 1336.7,364.8 1356.0,353.2 1356.0,335.8" fill="#3b3d3d" stroke="#3b3d3d" stroke-width="0.8" />
<polygon points="1199.3,386.7 1367.6,273.9 1360.6,332.5 1356.0,335.8 1327.7,353.2 1201.9,448.3" fill="#393b3b" stroke="#393b3b" stroke-width="0.8" />
<polygon points="1199.3,386.7 1367.6,273.9 1367.6,275.8 1200.6,389.0" fill="#454747" stroke="#454747" stroke-width="0.8" />
<polygon points="1176.0,334.9 1199.5,386.2 1201.7,448.4 1171.1,425.5 1175.0,421.1" fill="#373939" stroke="#373939" stroke-width="0.8" />
<polygon points="1161.4,292.1 1197.6,284.4 1205.3,296.5 1209.7,304.2 1223.9,323.9 1241.5,353.0 1200.0,385.1 1175.3,333.5 1159.9,339.9 1142.0,315.0" fill="#4c4e4e" stroke="#4c4e4e" stroke-width="0.8" />
<polygon points="1053.4,250.1 1101.7,224.8 1128.2,238.6 1158.7,253.7 1191.0,276.8 1197.6,284.4 1161.4,292.1 1142.0,315.0" fill="#555757" stroke="#555757" stroke-width="0.7"/>
<polygon points="1159.9,339.9 1175.4,333.5 1175.0,421.1 1156.4,433.7" fill="#414343" stroke="#414343" stroke-width="0.7"/>
<polygon points="1040.7,263.3 1053.4,250.1 1142.0,315.1 1159.9,339.9 1156.4,433.7 1063.6,367.7 1049.5,351.3" fill="url(#gff)" />
<g clip-path="url(#bore)">
<rect x="1040" y="270" width="130" height="150" fill="url(#gw)"/>
<polygon points="1058.0,288.0 1072.0,299.0 1096.4,327.3 1118.2,360.0 1134.6,387.3 1143.3,396.0 1180.0,396.0 1180.0,255.0 1058.0,255.0" fill="#0b0909" stroke="#0b0909" stroke-width="0.8" />
<polygon points="1126.4,339.8 1134.6,335.5 1140.0,343.6 1144.4,357.8 1146.6,376.4 1142.2,361.1 1135.1,349.1" fill="#fff" stroke="#fff" stroke-width="0.8" />
</g>
<ellipse cx="1054.5" cy="271.4" rx="3.3" ry="6.2" fill="#1a1b1b" transform="rotate(-38 1054.5 271.4)" />
<ellipse cx="1143.8" cy="331.2" rx="3.3" ry="6.2" fill="#1a1b1b" transform="rotate(-38 1143.8 331.2)" />
<ellipse cx="1064.3" cy="352.0" rx="3.3" ry="6.2" fill="#1a1b1b" transform="rotate(-38 1064.3 352.0)" />
<ellipse cx="1148.8" cy="414.6" rx="3.3" ry="6.2" fill="#1a1b1b" transform="rotate(-38 1148.8 414.6)" />
</g>
<defs><linearGradient id="mt" gradientUnits="userSpaceOnUse" x1="1640" y1="190" x2="1790" y2="215"><stop offset="0" stop-color="#b8902e"/><stop offset="0.6" stop-color="#bd9532"/><stop offset="1" stop-color="#c8a23c"/></linearGradient><linearGradient id="mr" gradientUnits="userSpaceOnUse" x1="1760" y1="220" x2="1770" y2="340"><stop offset="0" stop-color="#ad8222"/><stop offset="1" stop-color="#98700f"/></linearGradient><linearGradient id="cyl" gradientUnits="userSpaceOnUse" x1="1618" y1="258" x2="1646" y2="322"><stop offset="0" stop-color="#a9a9a9"/><stop offset="0.15" stop-color="#d6d6d6"/><stop offset="0.4" stop-color="#f6f6f6"/><stop offset="0.55" stop-color="#e2e2e2"/><stop offset="0.8" stop-color="#cfcfcf"/><stop offset="1" stop-color="#a5a5a5"/></linearGradient><linearGradient id="scr" gradientUnits="userSpaceOnUse" x1="1490" y1="345" x2="1506" y2="378"><stop offset="0" stop-color="#8a8a8a"/><stop offset="0.25" stop-color="#e2e2e2"/><stop offset="0.55" stop-color="#b9b9b9"/><stop offset="1" stop-color="#4a4a4a"/></linearGradient><linearGradient id="sut" gradientUnits="userSpaceOnUse" x1="1500" y1="290" x2="1560" y2="330"><stop offset="0" stop-color="#7a7a7a"/><stop offset="0.5" stop-color="#5a5a5a"/><stop offset="1" stop-color="#444"/></linearGradient></defs>
<g stroke-linejoin="round">
<polygon points="1635.3,194.1 1717.9,158.6 1798.6,194.8 1804.9,201.7 1806.8,306.4 1723.6,346.7 1718.5,238.3" fill="#a67b1d" stroke="#a67b1d" stroke-width="0.8" />
<polygon points="1721.1,240.2 1806.2,203.6 1807.4,306.4 1723.0,347.0" fill="url(#mr)" />
<polygon points="1634.0,194.4 1717.9,158.6 1798.6,194.8 1804.9,201.7 1724.2,238.3 1718.5,240.8" fill="url(#mt)" />
<polygon points="1723.0,236.8 1800.5,197.7 1805.8,203.0 1726.1,242.7" fill="#d2b04a" stroke="#d2b04a" stroke-width="0.8" opacity="0.85"/>
<polygon points="1512.6,278.5 1544.1,264.7 1567.5,278.5 1581.3,269.1 1605.0,259.7 1613.2,220.6 1614.5,198.5 1627.7,192.6 1721.7,239.8 1725.1,300.1 1725.5,353.0 1724.5,362.4 1710.3,370.1 1703.7,360.2 1601.5,416.6 1587.6,405.3 1587.6,391.4 1572.5,388.9 1570.0,329.6 1564.3,323.9" fill="#3a3c3c" stroke="#3a3c3c" stroke-width="0.7"/>
<polygon points="1614.5,198.5 1709.7,247.1 1709.1,307.6 1680.7,301.3 1637.8,263.5 1607.6,261.0 1613.2,220.6" fill="#323434" stroke="#323434" stroke-width="0.8" />
<polygon points="1614.5,198.5 1627.7,192.6 1721.7,239.8 1709.7,247.1" fill="#4c4e4e" stroke="#4c4e4e" stroke-width="0.8" />
<polygon points="1709.7,247.1 1721.7,239.8 1725.1,300.1 1710.0,307.4" fill="#414343" stroke="#414343" stroke-width="0.8" />
<polygon points="1637.8,249.6 1653.0,242.1 1670.6,244.6 1685.8,261.0 1688.3,276.1 1680.7,286.2 1650.4,276.1" fill="#17110f" stroke="#17110f" stroke-width="0.8" />
<polygon points="1613.2,220.6 1630.3,227.2 1618.9,263.5 1605.0,259.7" fill="#4a4c4c" stroke="#4a4c4c" stroke-width="0.8" />
<polygon points="1630.3,227.2 1631.8,237.0 1622.1,264.8 1618.9,263.5" fill="#303232" stroke="#303232" stroke-width="0.8" />
<polygon points="1688.3,261.0 1705.9,268.5 1697.1,312.7 1678.8,303.2" fill="#4a4c4c" stroke="#4a4c4c" stroke-width="0.8" />
<polygon points="1705.9,268.5 1709.7,267.3 1709.1,307.6 1697.1,312.7" fill="#393b3b" stroke="#393b3b" stroke-width="0.8" />
<ellipse cx="1623.3" cy="213.7" rx="2.6" ry="3.6" fill="#0c0c0c" transform="rotate(-30 1623.3 213.7)" />
<ellipse cx="1693.9" cy="254.7" rx="3.0" ry="4.0" fill="#0c0c0c" transform="rotate(-30 1693.9 254.7)" />
<polygon points="1611.6,320.8 1678.8,303.2 1697.1,312.7 1724.8,300.7 1600.2,363.7" fill="#4a4c4c" stroke="#4a4c4c" stroke-width="0.7"/>
<ellipse cx="1672.5" cy="316.5" rx="13.0" ry="7.2" fill="#2d2f2f" transform="rotate(0 1672.5 316.5)" />
<ellipse cx="1672.5" cy="316.5" rx="11.0" ry="5.6" fill="#444646" transform="rotate(0 1672.5 316.5)" />
<ellipse cx="1672.8" cy="318.3" rx="7.3" ry="4.0" fill="#1b1d1d" transform="rotate(0 1672.8 318.3)" />
<ellipse cx="1634.0" cy="339.2" rx="13.0" ry="7.2" fill="#2d2f2f" transform="rotate(0 1634.0 339.2)" />
<ellipse cx="1634.0" cy="339.2" rx="11.0" ry="5.6" fill="#444646" transform="rotate(0 1634.0 339.2)" />
<ellipse cx="1634.3" cy="341.2" rx="7.3" ry="4.0" fill="#1b1d1d" transform="rotate(0 1634.3 341.2)" />
<polygon points="1600.2,363.7 1724.8,300.7 1725.5,353.0 1724.5,355.9 1703.7,360.2 1601.5,416.6" fill="#3a3c3c" stroke="#3a3c3c" stroke-width="0.7"/>
<polygon points="1703.7,360.2 1710.3,370.1 1724.5,362.4 1724.5,355.9" fill="#353737" stroke="#353737" stroke-width="0.8" />
<polygon points="1583.2,334.7 1600.2,363.7 1601.5,416.6 1587.6,405.3 1587.6,391.4" fill="#323434" stroke="#323434" stroke-width="0.7"/>
<polygon points="1512.6,278.5 1544.1,264.7 1567.5,278.5 1578.8,280.4 1593.9,305.7 1611.6,320.8 1627.4,348.5 1600.2,363.7 1583.2,334.7 1570.0,329.6 1564.3,323.9" fill="#444646" stroke="#444646" stroke-width="0.8" />
<polygon points="1570.0,329.6 1583.2,334.7 1587.6,391.4 1572.5,388.9" fill="#343636" stroke="#343636" stroke-width="0.8" />
<polygon points="1567.5,278.5 1581.3,269.1 1593.9,274.1 1578.8,280.4" fill="#4a4c4c" stroke="#4a4c4c" stroke-width="0.8" />
<polygon points="1544.1,332.1 1564.3,323.9 1570.0,329.6 1572.5,388.9 1553.0,397.7 1551.1,342.2" fill="#1d1e1e" stroke="#1d1e1e" stroke-width="0.8" />
<polygon points="1496.8,288.6 1512.6,278.5 1564.3,323.9 1544.1,332.1" fill="url(#sut)" />
<polygon points="1504.4,287.4 1506.9,285.5 1557.4,329.6 1554.8,330.9" fill="#a0a0a0" stroke="#a0a0a0" stroke-width="0.8" opacity="0.8"/>
<polygon points="1488.6,296.8 1496.8,288.6 1544.1,332.1 1551.1,342.2 1553.0,397.7 1548.5,408.4 1496.8,373.8 1489.3,363.7" fill="#0f0f0f" stroke="#0f0f0f" stroke-width="0.8" />
<ellipse cx="1498.1" cy="305.7" rx="3.2" ry="5.0" fill="#6d6d6d" transform="rotate(-30 1498.1 305.7)" />
<ellipse cx="1499.1" cy="323.9" rx="3.5" ry="5.0" fill="#6d6d6d" transform="rotate(-30 1499.1 323.9)" />
<ellipse cx="1525.8" cy="327.7" rx="4.5" ry="5.0" fill="#6d6d6d" transform="rotate(-30 1525.8 327.7)" />
<ellipse cx="1538.7" cy="338.2" rx="4.5" ry="6.0" fill="#6d6d6d" transform="rotate(-30 1538.7 338.2)" />
<ellipse cx="1520.5" cy="379.1" rx="4.0" ry="5.0" fill="#6d6d6d" transform="rotate(-30 1520.5 379.1)" />
<ellipse cx="1547.3" cy="383.2" rx="3.5" ry="6.0" fill="#6d6d6d" transform="rotate(-30 1547.3 383.2)" />
<ellipse cx="1546.6" cy="399.6" rx="3.5" ry="5.5" fill="#6d6d6d" transform="rotate(-30 1546.6 399.6)" />
<polygon points="1454.0,361.8 1518.3,330.9 1527.1,331.5 1534.7,342.2 1535.9,354.8 1506.9,375.0 1471.6,399.0 1461.5,397.7" fill="url(#scr)" />
<ellipse cx="1529.6" cy="345.4" rx="9.0" ry="19.0" fill="#3a3a3a" transform="rotate(-27 1529.6 345.4)" opacity="0.55"/>
<line x1="1462.2" y1="358.6" x2="1474.1" y2="393.3" stroke="#6a6a6a" stroke-width="1.5" opacity="0.55"/>
<line x1="1468.3" y1="355.7" x2="1480.3" y2="389.9" stroke="#6a6a6a" stroke-width="1.5" opacity="0.55"/>
<line x1="1474.4" y1="352.8" x2="1486.4" y2="386.5" stroke="#6a6a6a" stroke-width="1.5" opacity="0.55"/>
<line x1="1480.5" y1="349.9" x2="1492.5" y2="383.1" stroke="#6a6a6a" stroke-width="1.5" opacity="0.55"/>
<line x1="1486.6" y1="347.0" x2="1498.6" y2="379.7" stroke="#6a6a6a" stroke-width="1.5" opacity="0.55"/>
<line x1="1492.7" y1="344.1" x2="1504.7" y2="376.3" stroke="#6a6a6a" stroke-width="1.5" opacity="0.55"/>
<line x1="1498.9" y1="341.2" x2="1510.8" y2="372.9" stroke="#6a6a6a" stroke-width="1.5" opacity="0.55"/>
<line x1="1505.0" y1="338.3" x2="1516.9" y2="369.5" stroke="#6a6a6a" stroke-width="1.5" opacity="0.55"/>
<line x1="1511.1" y1="335.4" x2="1523.1" y2="366.1" stroke="#6a6a6a" stroke-width="1.5" opacity="0.55"/>
<line x1="1517.2" y1="332.5" x2="1529.2" y2="362.7" stroke="#6a6a6a" stroke-width="1.5" opacity="0.55"/>
<line x1="1523.3" y1="329.6" x2="1535.3" y2="359.3" stroke="#6a6a6a" stroke-width="1.5" opacity="0.55"/>
<ellipse cx="1460.0" cy="380.1" rx="10.5" ry="18.0" fill="#2a2a2a" transform="rotate(-27 1460.0 380.1)" />
<polygon points="1580.2,277.1 1645.7,247.4 1652.9,248.6 1659.2,251.7 1665.6,257.3 1671.1,264.4 1675.1,271.6 1678.3,280.3 1679.8,291.4 1679.0,297.8 1676.7,302.5 1662.4,308.1 1647.3,317.6 1620.3,328.7 1615.6,323.2 1610.8,307.3 1602.9,291.4 1593.3,283.5 1586.2,279.1" fill="url(#cyl)" />
<polygon points="1576.3,280.7 1586.2,279.1 1594.1,284.3 1602.9,291.4 1610.8,307.3 1618.7,326.3 1615.6,327.1 1607.6,319.2 1599.7,307.3 1593.3,296.2 1581.4,288.3" fill="#1b1b1b" stroke="#1b1b1b" stroke-width="0.8" />
<polygon points="1576.3,280.7 1580.2,277.1 1586.2,279.1 1583.8,280.3" fill="#d0d0d0" stroke="#d0d0d0" stroke-width="0.8" />
<path d="M1610.8,263.3 A26,36 -21 0 1 1645.7,317.2" fill="none" stroke="#333" stroke-width="1.1"/>
<path d="M1617.1,260.5 A26,36 -21 0 1 1649.7,314.8" fill="none" stroke="#333" stroke-width="1.1"/>
<path d="M1623.5,257.3 A26,36 -21 0 1 1657.6,310.9" fill="none" stroke="#333" stroke-width="1.1"/>
<path d="M1631.4,254.1 A26,36 -21 0 1 1662.4,307.7" fill="none" stroke="#333" stroke-width="1.1"/>
<path d="M1636.2,251.7 A26,36 -21 0 1 1665.6,305.7" fill="none" stroke="#333" stroke-width="1.1"/>
<path d="M1607.6,267.6 L1620.3,280.3" stroke="#333" stroke-width="0.9"/>
<ellipse cx="1621.5" cy="301.7" rx="4.2" ry="6.5" fill="#555" transform="rotate(-30 1621.5 301.7)" />
<ellipse cx="1622.7" cy="302.5" rx="2.2" ry="4.0" fill="#ddd" transform="rotate(-30 1622.7 302.5)" />
</g>
<rect x="8.9" y="1224.3" width="2109.7" height="221.9" fill="#007a82"/>
<line x1="8.9" y1="1224.6" x2="2118.6" y2="1224.6" stroke="#2a2f30" stroke-width="1.6" />
<line x1="231.4" y1="1225.3" x2="231.4" y2="1446.2" stroke="#a9e4e6" stroke-width="1.4" />
<line x1="1706.4" y1="1225.3" x2="1706.4" y2="1446.2" stroke="#a9e4e6" stroke-width="1.4" />
<line x1="1969.3" y1="1225.3" x2="1969.3" y2="1446.2" stroke="#a9e4e6" stroke-width="1.4" />
<line x1="329.3" y1="1335.4" x2="329.3" y2="1446.2" stroke="#a9e4e6" stroke-width="1.4" />
<line x1="427.5" y1="1335.4" x2="427.5" y2="1446.2" stroke="#a9e4e6" stroke-width="1.4" />
<line x1="525.7" y1="1335.4" x2="525.7" y2="1446.2" stroke="#a9e4e6" stroke-width="1.4" />
<line x1="624.1" y1="1335.4" x2="624.1" y2="1446.2" stroke="#a9e4e6" stroke-width="1.4" />
<line x1="722.1" y1="1335.4" x2="722.1" y2="1446.2" stroke="#a9e4e6" stroke-width="1.4" />
<line x1="853.2" y1="1335.4" x2="853.2" y2="1446.2" stroke="#a9e4e6" stroke-width="1.4" />
<line x1="941.4" y1="1335.4" x2="941.4" y2="1446.2" stroke="#a9e4e6" stroke-width="1.4" />
<line x1="1029.3" y1="1335.4" x2="1029.3" y2="1446.2" stroke="#a9e4e6" stroke-width="1.4" />
<line x1="1117.1" y1="1335.4" x2="1117.1" y2="1446.2" stroke="#a9e4e6" stroke-width="1.4" />
<line x1="1205.4" y1="1335.4" x2="1205.4" y2="1446.2" stroke="#a9e4e6" stroke-width="1.4" />
<line x1="1293.2" y1="1335.4" x2="1293.2" y2="1446.2" stroke="#a9e4e6" stroke-width="1.4" />
<line x1="1381.4" y1="1335.4" x2="1381.4" y2="1446.2" stroke="#a9e4e6" stroke-width="1.4" />
<line x1="1468.9" y1="1335.4" x2="1468.9" y2="1446.2" stroke="#a9e4e6" stroke-width="1.4" />
<line x1="1538.6" y1="1335.4" x2="1538.6" y2="1446.2" stroke="#a9e4e6" stroke-width="1.4" />
<line x1="1617.1" y1="1335.4" x2="1617.1" y2="1446.2" stroke="#a9e4e6" stroke-width="1.4" />
<line x1="1820.6" y1="1335.4" x2="1820.6" y2="1446.2" stroke="#a9e4e6" stroke-width="1.4" />
<line x1="231.4" y1="1335.4" x2="1969.3" y2="1335.4" stroke="#a9e4e6" stroke-width="1.4" />
<text transform="translate(10.57,1352.90) scale(1.0620,1)" font-family='"Liberation Sans", "Noto Sans CJK SC", sans-serif' font-size="45.06" fill="#e9ffff">Model No.</text>
<text transform="translate(679.90,1295.70) scale(1.0948,1)" font-family='"Liberation Sans", "Noto Sans CJK SC", sans-serif' font-size="45.64" fill="#e9ffff">Dimensions of Motor Bracket</text>
<text transform="translate(1714.53,1292.90) scale(1.0630,1)" font-family='"Liberation Sans", "Noto Sans CJK SC", sans-serif' font-size="42.88" fill="#e9ffff">Support unit</text>
<text transform="translate(1983.82,1322.10) scale(1.2995,1)" font-family='"Liberation Sans", "Noto Sans CJK SC", sans-serif' font-size="25.00" fill="#e9ffff">Suggest</text>
<text transform="translate(1980.06,1357.30) scale(1.2517,1)" font-family='"Liberation Sans", "Noto Sans CJK SC", sans-serif' font-size="25.87" fill="#e9ffff">Coupling</text>
<text transform="translate(258.86,1400.70) scale(1.1000,1)" font-family='"Liberation Sans", "Noto Sans CJK SC", sans-serif' font-size="29.80" fill="#e9ffff">D1</text>
<text transform="translate(354.55,1400.70) scale(1.1000,1)" font-family='"Liberation Sans", "Noto Sans CJK SC", sans-serif' font-size="29.80" fill="#e9ffff">W1</text>
<text transform="translate(465.67,1400.70) scale(1.1000,1)" font-family='"Liberation Sans", "Noto Sans CJK SC", sans-serif' font-size="29.80" fill="#e9ffff">Y</text>
<text transform="translate(562.50,1399.50) scale(1.1000,1)" font-family='"Liberation Sans", "Noto Sans CJK SC", sans-serif' font-size="29.80" fill="#e9ffff">D</text>
<text transform="translate(663.19,1402.90) scale(1.1000,1)" font-family='"Liberation Sans", "Noto Sans CJK SC", sans-serif' font-size="29.80" fill="#e9ffff">L</text>
<text transform="translate(885.89,1403.50) scale(1.1000,1)" font-family='"Liberation Sans", "Noto Sans CJK SC", sans-serif' font-size="29.80" fill="#e9ffff">B</text>
<text transform="translate(973.94,1403.50) scale(1.1000,1)" font-family='"Liberation Sans", "Noto Sans CJK SC", sans-serif' font-size="29.80" fill="#e9ffff">P</text>
<text transform="translate(1063.20,1403.50) scale(1.1000,1)" font-family='"Liberation Sans", "Noto Sans CJK SC", sans-serif' font-size="29.80" fill="#e9ffff">T</text>
<text transform="translate(1150.33,1403.50) scale(1.1000,1)" font-family='"Liberation Sans", "Noto Sans CJK SC", sans-serif' font-size="29.80" fill="#e9ffff">S</text>
<text transform="translate(1236.56,1403.50) scale(1.1000,1)" font-family='"Liberation Sans", "Noto Sans CJK SC", sans-serif' font-size="29.80" fill="#e9ffff">Q</text>
<text transform="translate(1325.73,1403.50) scale(1.1000,1)" font-family='"Liberation Sans", "Noto Sans CJK SC", sans-serif' font-size="29.80" fill="#e9ffff">E</text>
<text transform="translate(1404.56,1403.50) scale(1.1000,1)" font-family='"Liberation Sans", "Noto Sans CJK SC", sans-serif' font-size="29.80" fill="#e9ffff">E1</text>
<text transform="translate(1493.05,1403.50) scale(1.1000,1)" font-family='"Liberation Sans", "Noto Sans CJK SC", sans-serif' font-size="29.80" fill="#e9ffff">F</text>
<text transform="translate(1570.62,1403.50) scale(1.1000,1)" font-family='"Liberation Sans", "Noto Sans CJK SC", sans-serif' font-size="29.80" fill="#e9ffff">J</text>
<text transform="translate(772.10,1385.00) scale(1.1000,1)" font-family='"Liberation Sans", "Noto Sans CJK SC", sans-serif' font-size="29.07" fill="#e9ffff">H</text>
<text transform="translate(739.37,1423.20) scale(1.1676,1)" font-family='"Liberation Sans", "Noto Sans CJK SC", sans-serif' font-size="30.52" fill="#e9ffff">±0.02</text>
<text transform="translate(1627.20,1379.60) scale(1.0222,1)" font-family='"Liberation Sans", "Noto Sans CJK SC", sans-serif' font-size="21.80" fill="#e9ffff">Weight</text>
<text transform="translate(1621.39,1418.60) scale(1.0878,1)" font-family='"Liberation Sans", "Noto Sans CJK SC", sans-serif' font-size="31.25" fill="#e9ffff">(Kgs)</text>
<text transform="translate(1713.81,1395.70) scale(0.9759,1)" font-family='"Liberation Sans", "Noto Sans CJK SC", sans-serif' font-size="22.38" fill="#e9ffff">Fixed-side</text>
<text transform="translate(1825.37,1397.00) scale(0.9165,1)" font-family='"Liberation Sans", "Noto Sans CJK SC", sans-serif' font-size="22.38" fill="#e9ffff">Supported-side</text>
<line x1="8.9" y1="1446.2" x2="8.9" y2="1918.2" stroke="#d6d6d6" stroke-width="1.3" />
<line x1="231.4" y1="1446.2" x2="231.4" y2="1918.2" stroke="#d6d6d6" stroke-width="1.3" />
<line x1="329.3" y1="1446.2" x2="329.3" y2="1918.2" stroke="#d6d6d6" stroke-width="1.3" />
<line x1="427.5" y1="1446.2" x2="427.5" y2="1918.2" stroke="#d6d6d6" stroke-width="1.3" />
<line x1="525.7" y1="1446.2" x2="525.7" y2="1918.2" stroke="#d6d6d6" stroke-width="1.3" />
<line x1="624.1" y1="1446.2" x2="624.1" y2="1918.2" stroke="#d6d6d6" stroke-width="1.3" />
<line x1="722.1" y1="1446.2" x2="722.1" y2="1918.2" stroke="#d6d6d6" stroke-width="1.3" />
<line x1="853.2" y1="1446.2" x2="853.2" y2="1918.2" stroke="#d6d6d6" stroke-width="1.3" />
<line x1="941.4" y1="1446.2" x2="941.4" y2="1918.2" stroke="#d6d6d6" stroke-width="1.3" />
<line x1="1029.3" y1="1446.2" x2="1029.3" y2="1918.2" stroke="#d6d6d6" stroke-width="1.3" />
<line x1="1117.1" y1="1446.2" x2="1117.1" y2="1918.2" stroke="#d6d6d6" stroke-width="1.3" />
<line x1="1205.4" y1="1446.2" x2="1205.4" y2="1918.2" stroke="#d6d6d6" stroke-width="1.3" />
<line x1="1293.2" y1="1446.2" x2="1293.2" y2="1918.2" stroke="#d6d6d6" stroke-width="1.3" />
<line x1="1381.4" y1="1446.2" x2="1381.4" y2="1918.2" stroke="#d6d6d6" stroke-width="1.3" />
<line x1="1468.9" y1="1446.2" x2="1468.9" y2="1918.2" stroke="#d6d6d6" stroke-width="1.3" />
<line x1="1538.6" y1="1446.2" x2="1538.6" y2="1918.2" stroke="#d6d6d6" stroke-width="1.3" />
<line x1="1617.1" y1="1446.2" x2="1617.1" y2="1918.2" stroke="#d6d6d6" stroke-width="1.3" />
<line x1="1706.4" y1="1446.2" x2="1706.4" y2="1918.2" stroke="#d6d6d6" stroke-width="1.3" />
<line x1="1820.6" y1="1446.2" x2="1820.6" y2="1918.2" stroke="#d6d6d6" stroke-width="1.3" />
<line x1="1969.3" y1="1446.2" x2="1969.3" y2="1918.2" stroke="#d6d6d6" stroke-width="1.3" />
<line x1="2118.6" y1="1446.2" x2="2118.6" y2="1918.2" stroke="#d6d6d6" stroke-width="1.3" />
<line x1="8.9" y1="1918.2" x2="2118.6" y2="1918.2" stroke="#d6d6d6" stroke-width="1.3" />
<line x1="8.9" y1="1523.6" x2="231.4" y2="1523.6" stroke="#d6d6d6" stroke-width="1.3" />
<line x1="8.9" y1="1602.9" x2="231.4" y2="1602.9" stroke="#d6d6d6" stroke-width="1.3" />
<line x1="8.9" y1="1681.8" x2="231.4" y2="1681.8" stroke="#d6d6d6" stroke-width="1.3" />
<line x1="8.9" y1="1760.7" x2="231.4" y2="1760.7" stroke="#d6d6d6" stroke-width="1.3" />
<line x1="8.9" y1="1839.6" x2="231.4" y2="1839.6" stroke="#d6d6d6" stroke-width="1.3" />
<line x1="231.4" y1="1523.6" x2="427.5" y2="1523.6" stroke="#d6d6d6" stroke-width="1.3" />
<line x1="231.4" y1="1681.8" x2="427.5" y2="1681.8" stroke="#d6d6d6" stroke-width="1.3" />
<line x1="231.4" y1="1760.7" x2="427.5" y2="1760.7" stroke="#d6d6d6" stroke-width="1.3" />
<line x1="427.5" y1="1523.6" x2="525.7" y2="1523.6" stroke="#d6d6d6" stroke-width="1.3" />
<line x1="427.5" y1="1602.9" x2="525.7" y2="1602.9" stroke="#d6d6d6" stroke-width="1.3" />
<line x1="427.5" y1="1681.8" x2="525.7" y2="1681.8" stroke="#d6d6d6" stroke-width="1.3" />
<line x1="427.5" y1="1839.6" x2="525.7" y2="1839.6" stroke="#d6d6d6" stroke-width="1.3" />
<line x1="624.1" y1="1523.6" x2="722.1" y2="1523.6" stroke="#d6d6d6" stroke-width="1.3" />
<line x1="624.1" y1="1681.8" x2="722.1" y2="1681.8" stroke="#d6d6d6" stroke-width="1.3" />
<line x1="624.1" y1="1760.7" x2="722.1" y2="1760.7" stroke="#d6d6d6" stroke-width="1.3" />
<line x1="624.1" y1="1839.6" x2="722.1" y2="1839.6" stroke="#d6d6d6" stroke-width="1.3" />
<line x1="853.2" y1="1681.8" x2="1293.2" y2="1681.8" stroke="#d6d6d6" stroke-width="1.3" />
<line x1="1293.2" y1="1523.6" x2="1381.4" y2="1523.6" stroke="#d6d6d6" stroke-width="1.3" />
<line x1="1293.2" y1="1681.8" x2="1381.4" y2="1681.8" stroke="#d6d6d6" stroke-width="1.3" />
<line x1="1293.2" y1="1760.7" x2="1381.4" y2="1760.7" stroke="#d6d6d6" stroke-width="1.3" />
<line x1="1293.2" y1="1839.6" x2="1381.4" y2="1839.6" stroke="#d6d6d6" stroke-width="1.3" />
<line x1="1468.9" y1="1681.8" x2="1538.6" y2="1681.8" stroke="#d6d6d6" stroke-width="1.3" />
<line x1="1538.6" y1="1523.6" x2="1617.1" y2="1523.6" stroke="#d6d6d6" stroke-width="1.3" />
<line x1="1538.6" y1="1681.8" x2="1617.1" y2="1681.8" stroke="#d6d6d6" stroke-width="1.3" />
<line x1="1538.6" y1="1760.7" x2="1617.1" y2="1760.7" stroke="#d6d6d6" stroke-width="1.3" />
<line x1="1538.6" y1="1839.6" x2="1617.1" y2="1839.6" stroke="#d6d6d6" stroke-width="1.3" />
<line x1="1617.1" y1="1523.6" x2="1706.4" y2="1523.6" stroke="#d6d6d6" stroke-width="1.3" />
<line x1="1617.1" y1="1602.9" x2="1706.4" y2="1602.9" stroke="#d6d6d6" stroke-width="1.3" />
<line x1="1617.1" y1="1681.8" x2="1706.4" y2="1681.8" stroke="#d6d6d6" stroke-width="1.3" />
<line x1="1617.1" y1="1760.7" x2="1706.4" y2="1760.7" stroke="#d6d6d6" stroke-width="1.3" />
<line x1="1617.1" y1="1839.6" x2="1706.4" y2="1839.6" stroke="#d6d6d6" stroke-width="1.3" />
<line x1="1969.3" y1="1523.6" x2="2118.6" y2="1523.6" stroke="#d6d6d6" stroke-width="1.3" />
<line x1="1969.3" y1="1681.8" x2="2118.6" y2="1681.8" stroke="#d6d6d6" stroke-width="1.3" />
<text transform="translate(20.07,1495.40) scale(1.1032,1)" font-family='"Liberation Sans", "Noto Sans CJK SC", sans-serif' font-size="29.07" fill="#000">MBL15-C</text>
<text transform="translate(20.06,1573.90) scale(1.1058,1)" font-family='"Liberation Sans", "Noto Sans CJK SC", sans-serif' font-size="29.07" fill="#000">MBL15-D</text>
<text transform="translate(20.12,1653.20) scale(1.0835,1)" font-family='"Liberation Sans", "Noto Sans CJK SC", sans-serif' font-size="29.07" fill="#000">MBL15-DP</text>
<text transform="translate(20.07,1732.10) scale(1.1009,1)" font-family='"Liberation Sans", "Noto Sans CJK SC", sans-serif' font-size="29.07" fill="#000">MBL15-F</text>
<text transform="translate(20.09,1811.00) scale(1.0932,1)" font-family='"Liberation Sans", "Noto Sans CJK SC", sans-serif' font-size="29.07" fill="#000">MBL15-E</text>
<text transform="translate(20.16,1889.60) scale(1.0648,1)" font-family='"Liberation Sans", "Noto Sans CJK SC", sans-serif' font-size="29.07" fill="#000">MBL15-EP</text>
<text transform="translate(248.84,1495.40) scale(1.1200,1)" font-family='"Liberation Sans", "Noto Sans CJK SC", sans-serif' font-size="29.07" fill="#000">38.1</text>
<text transform="translate(262.23,1613.55) scale(1.1200,1)" font-family='"Liberation Sans", "Noto Sans CJK SC", sans-serif' font-size="29.07" fill="#000">50</text>
<text transform="translate(262.12,1732.10) scale(1.1200,1)" font-family='"Liberation Sans", "Noto Sans CJK SC", sans-serif' font-size="29.07" fill="#000">73</text>
<text transform="translate(262.04,1850.30) scale(1.1200,1)" font-family='"Liberation Sans", "Noto Sans CJK SC", sans-serif' font-size="29.07" fill="#000">70</text>
<text transform="translate(346.71,1495.40) scale(1.1200,1)" font-family='"Liberation Sans", "Noto Sans CJK SC", sans-serif' font-size="29.07" fill="#000">66.7</text>
<text transform="translate(360.09,1613.55) scale(1.1200,1)" font-family='"Liberation Sans", "Noto Sans CJK SC", sans-serif' font-size="29.07" fill="#000">70</text>
<text transform="translate(346.43,1732.10) scale(1.1200,1)" font-family='"Liberation Sans", "Noto Sans CJK SC", sans-serif' font-size="29.07" fill="#000">98.4</text>
<text transform="translate(360.17,1850.30) scale(1.1200,1)" font-family='"Liberation Sans", "Noto Sans CJK SC", sans-serif' font-size="29.07" fill="#000">90</text>
<text transform="translate(453.13,1495.40) scale(1.1200,1)" font-family='"Liberation Sans", "Noto Sans CJK SC", sans-serif' font-size="29.07" fill="#000">M4</text>
<text transform="translate(453.33,1573.90) scale(1.1200,1)" font-family='"Liberation Sans", "Noto Sans CJK SC", sans-serif' font-size="29.07" fill="#000">M5</text>
<text transform="translate(453.13,1653.20) scale(1.1200,1)" font-family='"Liberation Sans", "Noto Sans CJK SC", sans-serif' font-size="29.07" fill="#000">M4</text>
<text transform="translate(453.37,1771.55) scale(1.1200,1)" font-family='"Liberation Sans", "Noto Sans CJK SC", sans-serif' font-size="29.07" fill="#000">M6</text>
<text transform="translate(453.33,1889.60) scale(1.1200,1)" font-family='"Liberation Sans", "Noto Sans CJK SC", sans-serif' font-size="29.07" fill="#000">M5</text>
<text transform="translate(557.05,1692.65) scale(1.1200,1)" font-family='"Liberation Sans", "Noto Sans CJK SC", sans-serif' font-size="29.07" fill="#000">40</text>
<text transform="translate(655.10,1495.40) scale(1.1200,1)" font-family='"Liberation Sans", "Noto Sans CJK SC", sans-serif' font-size="29.07" fill="#000">82</text>
<text transform="translate(654.76,1613.55) scale(1.1200,1)" font-family='"Liberation Sans", "Noto Sans CJK SC", sans-serif' font-size="29.07" fill="#000">84</text>
<text transform="translate(655.05,1732.10) scale(1.1200,1)" font-family='"Liberation Sans", "Noto Sans CJK SC", sans-serif' font-size="29.07" fill="#000">92</text>
<text transform="translate(654.71,1811.00) scale(1.1200,1)" font-family='"Liberation Sans", "Noto Sans CJK SC", sans-serif' font-size="29.07" fill="#000">94</text>
<text transform="translate(655.05,1889.60) scale(1.1200,1)" font-family='"Liberation Sans", "Noto Sans CJK SC", sans-serif' font-size="29.07" fill="#000">92</text>
<text transform="translate(769.54,1692.65) scale(1.1200,1)" font-family='"Liberation Sans", "Noto Sans CJK SC", sans-serif' font-size="29.07" fill="#000">22</text>
<text transform="translate(878.99,1573.90) scale(1.1200,1)" font-family='"Liberation Sans", "Noto Sans CJK SC", sans-serif' font-size="29.07" fill="#000">70</text>
<text transform="translate(879.19,1811.00) scale(1.1200,1)" font-family='"Liberation Sans", "Noto Sans CJK SC", sans-serif' font-size="29.07" fill="#000">88</text>
<text transform="translate(967.27,1573.90) scale(1.1200,1)" font-family='"Liberation Sans", "Noto Sans CJK SC", sans-serif' font-size="29.07" fill="#000">55</text>
<text transform="translate(967.04,1811.00) scale(1.1200,1)" font-family='"Liberation Sans", "Noto Sans CJK SC", sans-serif' font-size="29.07" fill="#000">70</text>
<text transform="translate(1055.16,1573.90) scale(1.1200,1)" font-family='"Liberation Sans", "Noto Sans CJK SC", sans-serif' font-size="29.07" fill="#000">35</text>
<text transform="translate(1055.20,1811.00) scale(1.1200,1)" font-family='"Liberation Sans", "Noto Sans CJK SC", sans-serif' font-size="29.07" fill="#000">44</text>
<text transform="translate(1138.51,1573.90) scale(1.1200,1)" font-family='"Liberation Sans", "Noto Sans CJK SC", sans-serif' font-size="29.07" fill="#000">6.6</text>
<text transform="translate(1138.60,1811.00) scale(1.1200,1)" font-family='"Liberation Sans", "Noto Sans CJK SC", sans-serif' font-size="29.07" fill="#000">8.5</text>
<text transform="translate(1230.75,1573.90) scale(1.1200,1)" font-family='"Liberation Sans", "Noto Sans CJK SC", sans-serif' font-size="29.07" fill="#000">11</text>
<text transform="translate(1230.43,1811.00) scale(1.1200,1)" font-family='"Liberation Sans", "Noto Sans CJK SC", sans-serif' font-size="29.07" fill="#000">14</text>
<text transform="translate(1318.85,1495.40) scale(1.1200,1)" font-family='"Liberation Sans", "Noto Sans CJK SC", sans-serif' font-size="29.07" fill="#000">24</text>
<text transform="translate(1319.06,1613.55) scale(1.1200,1)" font-family='"Liberation Sans", "Noto Sans CJK SC", sans-serif' font-size="29.07" fill="#000">25</text>
<text transform="translate(1319.14,1732.10) scale(1.1200,1)" font-family='"Liberation Sans", "Noto Sans CJK SC", sans-serif' font-size="29.07" fill="#000">29</text>
<text transform="translate(1319.21,1811.00) scale(1.1200,1)" font-family='"Liberation Sans", "Noto Sans CJK SC", sans-serif' font-size="29.07" fill="#000">30</text>
<text transform="translate(1319.14,1889.60) scale(1.1200,1)" font-family='"Liberation Sans", "Noto Sans CJK SC", sans-serif' font-size="29.07" fill="#000">29</text>
<text transform="translate(1406.93,1692.65) scale(1.1200,1)" font-family='"Liberation Sans", "Noto Sans CJK SC", sans-serif' font-size="29.07" fill="#000">28</text>
<text transform="translate(1494.73,1573.90) scale(1.1200,1)" font-family='"Liberation Sans", "Noto Sans CJK SC", sans-serif' font-size="29.07" fill="#000">5</text>
<text transform="translate(1494.58,1811.00) scale(1.1200,1)" font-family='"Liberation Sans", "Noto Sans CJK SC", sans-serif' font-size="29.07" fill="#000">6</text>
<text transform="translate(1559.62,1495.40) scale(1.1200,1)" font-family='"Liberation Sans", "Noto Sans CJK SC", sans-serif' font-size="29.07" fill="#000">73</text>
<text transform="translate(1559.59,1613.55) scale(1.1200,1)" font-family='"Liberation Sans", "Noto Sans CJK SC", sans-serif' font-size="29.07" fill="#000">75</text>
<text transform="translate(1559.83,1732.10) scale(1.1200,1)" font-family='"Liberation Sans", "Noto Sans CJK SC", sans-serif' font-size="29.07" fill="#000">81</text>
<text transform="translate(1559.85,1811.00) scale(1.1200,1)" font-family='"Liberation Sans", "Noto Sans CJK SC", sans-serif' font-size="29.07" fill="#000">82</text>
<text transform="translate(1559.83,1889.60) scale(1.1200,1)" font-family='"Liberation Sans", "Noto Sans CJK SC", sans-serif' font-size="29.07" fill="#000">81</text>
<text transform="translate(1630.15,1495.40) scale(1.1200,1)" font-family='"Liberation Sans", "Noto Sans CJK SC", sans-serif' font-size="29.07" fill="#000">0.73</text>
<text transform="translate(1630.20,1573.90) scale(1.1200,1)" font-family='"Liberation Sans", "Noto Sans CJK SC", sans-serif' font-size="29.07" fill="#000">0.69</text>
<text transform="translate(1630.14,1653.20) scale(1.1200,1)" font-family='"Liberation Sans", "Noto Sans CJK SC", sans-serif' font-size="29.07" fill="#000">0.68</text>
<text transform="translate(1629.51,1732.10) scale(1.1200,1)" font-family='"Liberation Sans", "Noto Sans CJK SC", sans-serif' font-size="29.07" fill="#000">1.15</text>
<text transform="translate(1629.64,1811.00) scale(1.1200,1)" font-family='"Liberation Sans", "Noto Sans CJK SC", sans-serif' font-size="29.07" fill="#000">1.22</text>
<text transform="translate(1629.64,1889.60) scale(1.1200,1)" font-family='"Liberation Sans", "Noto Sans CJK SC", sans-serif' font-size="29.07" fill="#000">1.17</text>
<text transform="translate(1711.27,1692.65) scale(1.1458,1)" font-family='"Liberation Sans", "Noto Sans CJK SC", sans-serif' font-size="29.07" fill="#000">FKA15</text>
<text transform="translate(1844.85,1672.90) scale(1.1539,1)" font-family='"Liberation Sans", "Noto Sans CJK SC", sans-serif' font-size="29.07" fill="#000">LF15</text>
<text transform="translate(1844.80,1712.10) scale(1.1725,1)" font-family='"Liberation Sans", "Noto Sans CJK SC", sans-serif' font-size="29.07" fill="#000">LFA20</text>
<text transform="translate(1974.78,1494.30) scale(1.3689,1)" font-family='"Liberation Sans", "Noto Sans CJK SC", sans-serif' font-size="24.42" fill="#000">SGL 34C</text>
<text transform="translate(1974.82,1612.90) scale(1.3322,1)" font-family='"Liberation Sans", "Noto Sans CJK SC", sans-serif' font-size="24.42" fill="#000">SGS 34C</text>
<text transform="translate(1974.82,1809.60) scale(1.3322,1)" font-family='"Liberation Sans", "Noto Sans CJK SC", sans-serif' font-size="24.42" fill="#000">SGS 40C</text>
</svg></body></html>
